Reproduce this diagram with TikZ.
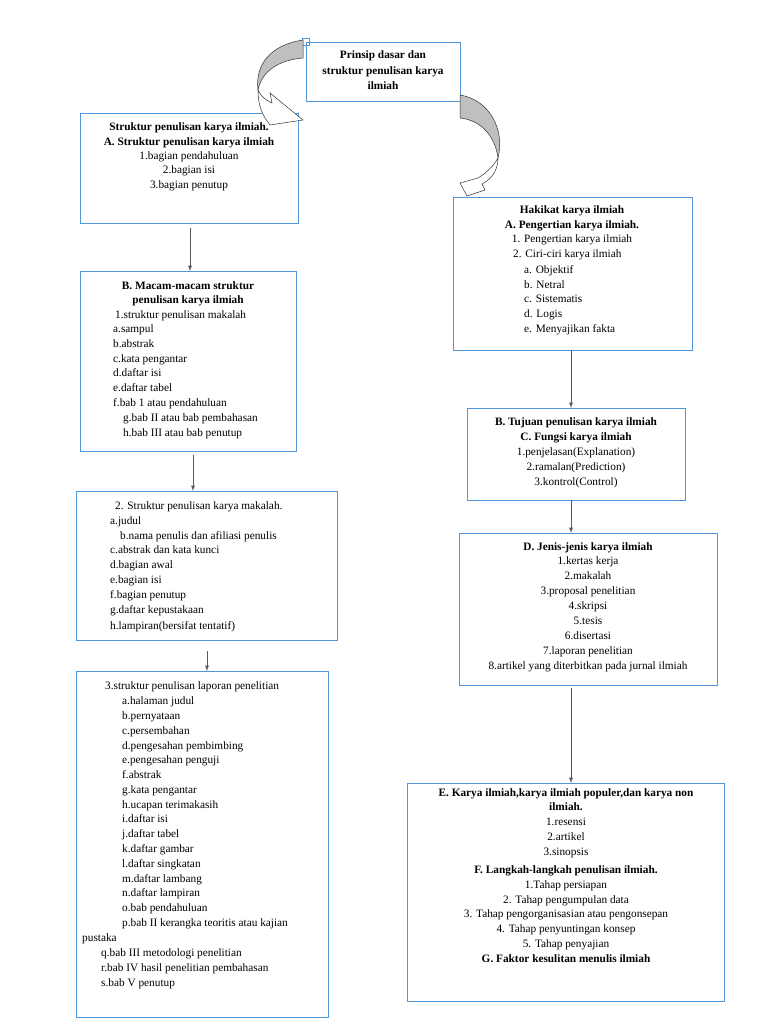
\documentclass[tikz,border=0pt]{standalone}
\usepackage{fontspec}
\setmainfont{Liberation Serif}
\begin{document}
\begin{tikzpicture}[x=1pt,y=-1pt,
 box/.style={draw={rgb,255:red,80;green,150;blue,220},line width=0.9pt},
 arr/.style={draw={rgb,255:red,90;green,90;blue,90},line width=0.9pt,-latex},
 tl/.style={anchor=base west,inner sep=0pt,font=\fontsize{11.3}{13}\selectfont},
 tc/.style={anchor=base,inner sep=0pt,font=\fontsize{11.3}{13}\selectfont},
 rib/.style={draw=black!80,line width=0.5pt}]
\useasboundingbox (0,0) rectangle (768,1024);
% boxes
\node[box,minimum width=0pt] (p) at (306,42) {};
\draw[box] (306,42) rectangle (460,101);
\draw[box] (80,113) rectangle (298,223);
\draw[box] (453,197) rectangle (692,350);
\draw[box] (80,271) rectangle (296,451);
\draw[box] (467,408) rectangle (685,500);
\draw[box] (76,491) rectangle (337,640);
\draw[box] (459,533) rectangle (717,685);
\draw[box] (76,671) rectangle (328,1017);
\draw[box] (407,783) rectangle (724,1001);
% coordinates for arrows
\coordinate (a1) at (190,228); \coordinate (a2) at (190,271);
\coordinate (b1) at (193,455); \coordinate (b2) at (193,491);
\coordinate (c1) at (207,651); \coordinate (c2) at (207,671);
\coordinate (d1) at (571,350); \coordinate (d2) at (571,408);
\coordinate (e1) at (571,500); \coordinate (e2) at (571,533);
\coordinate (f1) at (571,688); \coordinate (f2) at (571,783);
\foreach \s/\e in {a1/a2,b1/b2,c1/c2,d1/d2,e1/e2,f1/f2} \draw[arr] (\s) -- (\e);
% curved ribbon arrows
\filldraw[rib,fill=black!25] (303,40) .. controls (270,45) and (255,65) .. (258,90) .. controls (262,70) and (280,60) .. (303,58) -- cycle;
\filldraw[rib,fill=white] (258,90) .. controls (258,105) and (262,115) .. (270,125) -- (303,120) -- (270,93) -- (272,103) .. controls (265,100) and (260,95) .. (258,90) -- cycle;
\filldraw[rib,fill=black!25] (460,95) .. controls (490,100) and (505,130) .. (498,158) .. controls (495,135) and (480,120) .. (460,118) -- cycle;
\filldraw[rib,fill=white] (498,158) .. controls (498,172) and (490,180) .. (482,184) -- (485,190) -- (467,196) -- (460,183) -- (478,178) .. controls (488,172) and (494,165) .. (498,158) -- cycle;
% texts
\foreach \y/\t [count=\i] in {59/{\bfseries Prinsip dasar dan},75/{\bfseries struktur penulisan karya},90/{\bfseries ilmiah}}
  \node[tc] (pt\i) at (383,\y) {\t};
\foreach \y/\t [count=\i] in {131/{\bfseries Struktur penulisan karya ilmiah.},146/{\bfseries A. Struktur penulisan karya ilmiah},160/1.bagian pendahuluan,174/2.bagian isi,189/3.bagian penutup}
  \node[tc] (at\i) at (189,\y) {\t};
\foreach \y/\t [count=\i] in {214/{\bfseries Hakikat karya ilmiah},229/{\bfseries A. Pengertian karya ilmiah.},243/1. Pengertian karya ilmiah}
  \node[tc] (ht\i) at (572,\y) {\t};
\foreach \x/\y/\t [count=\i] in {513/258/2. Ciri-ciri karya ilmiah,524/273/a. Objektif,524/288/b. Netral,524/302/c. Sistematis,524/317/d. Logis,524/332/e. Menyajikan fakta}
  \node[tl] (hl\i) at (\x,\y) {\t};
\foreach \y/\t [count=\i] in {289/{\bfseries B. Macam-macam struktur},303/{\bfseries penulisan karya ilmiah}}
  \node[tc] (mt\i) at (188,\y) {\t};
\foreach \x/\y/\t [count=\i] in {115/318/1.struktur penulisan makalah,113/332/a.sampul,113/347/b.abstrak,113/362/c.kata pengantar,113/376/d.daftar isi,113/391/e.daftar tabel,113/406/f.bab 1 atau pendahuluan,123/421/g.bab II atau bab pembahasan,123/436/h.bab III atau bab penutup}
  \node[tl] (ml\i) at (\x,\y) {\t};
\foreach \x/\y/\t [count=\i] in {115/509/2. Struktur penulisan karya makalah.,110/524/a.judul,120/539/b.nama penulis dan afiliasi penulis,110/553/c.abstrak dan kata kunci,110/568/d.bagian awal,110/583/e.bagian isi,110/598/f.bagian penutup,110/613/g.daftar kepustakaan,110/629/h.lampiran(bersifat tentatif)}
  \node[tl] (sl\i) at (\x,\y) {\t};
\foreach \y/\t [count=\i] in {704/a.halaman judul,719/b.pernyataan,734/c.persembahan,749/d.pengesahan pembimbing,763/e.pengesahan penguji,778/f.abstrak,793/g.kata pengantar,808/h.ucapan terimakasih,822/i.daftar isi,837/j.daftar tabel,852/k.daftar gambar,867/l.daftar singkatan,882/m.daftar lambang,896/n.daftar lampiran,911/o.bab pendahuluan,926/p.bab II kerangka teoritis atau kajian}
  \node[tl] (ll\i) at (122,\y) {\t};
\node[tl] (lt) at (105,689) {3.struktur penulisan laporan penelitian};
\node[tl] (lp) at (82,941) {pustaka};
\foreach \y/\t [count=\i] in {956/q.bab III metodologi penelitian,971/r.bab IV hasil penelitian pembahasan,986/s.bab V penutup}
  \node[tl] (lq\i) at (101,\y) {\t};
\foreach \y/\t [count=\i] in {425/{\bfseries B. Tujuan penulisan karya ilmiah},440/{\bfseries C. Fungsi karya ilmiah},455/1.penjelasan(Explanation),470/2.ramalan(Prediction),485/3.kontrol(Control)}
  \node[tc] (tt\i) at (576,\y) {\t};
\foreach \y/\t [count=\i] in {550/{\bfseries D. Jenis-jenis karya ilmiah},564/1.kertas kerja,579/2.makalah,594/3.proposal penelitian,609/4.skripsi,624/5.tesis,639/6.disertasi,654/7.laporan penelitian,669/8.artikel yang diterbitkan pada jurnal ilmiah}
  \node[tc] (jt\i) at (588,\y) {\t};
\foreach \y/\t [count=\i] in {796/{\bfseries E. Karya ilmiah,karya ilmiah populer,dan karya non},810/{\bfseries ilmiah.},825/1.resensi,840/2.artikel,855/3.sinopsis,873/{\bfseries F. Langkah-langkah penulisan ilmiah.},888/1.Tahap persiapan,903/2. Tahap pengumpulan data,917/3. Tahap pengorganisasian atau pengonsepan,932/4. Tahap penyuntingan konsep,947/5. Tahap penyajian,962/{\bfseries G. Faktor kesulitan menulis ilmiah}}
  \node[tc] (et\i) at (566,\y) {\t};
\end{tikzpicture}
\end{document}
